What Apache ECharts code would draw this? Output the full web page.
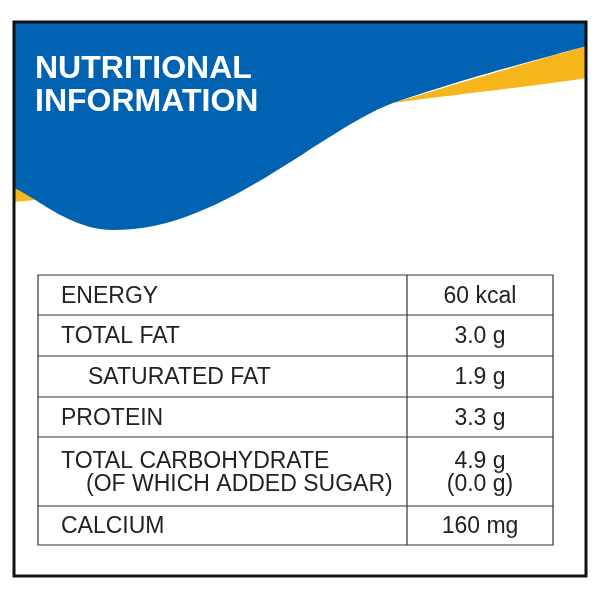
<!DOCTYPE html><html><head><meta charset="utf-8"><script src="https://cdn.jsdelivr.net/npm/echarts@6/dist/echarts.min.js"></script>
<style>html,body{margin:0;background:#fff}#c{width:600px;height:600px}</style></head><body><div id="c"></div><script>
const titleLines=["NUTRITIONAL","INFORMATION"];
const nutrients=[["ENERGY"],["TOTAL FAT"],["SATURATED FAT"],["PROTEIN"],["TOTAL CARBOHYDRATE","(OF WHICH ADDED SUGAR)"],["CALCIUM"]];
const amounts=[["60 kcal"],["3.0 g"],["1.9 g"],["3.3 g"],["4.9 g","(0.0 g)"],["160 mg"]];
const indent=[0,0,1,0,0,0];
const chart=echarts.init(document.getElementById('c'));
const rowH=[40,41,41,40,69,39];
function bez(p0,p1,p2,p3,n=30){const r=[];for(let i=0;i<=n;i++){const t=i/n,u=1-t;r.push([u*u*u*p0[0]+3*u*u*t*p1[0]+3*u*t*t*p2[0]+t*t*t*p3[0],u*u*u*p0[1]+3*u*u*t*p1[1]+3*u*t*t*p2[1]+t*t*t*p3[1]]);}return r;}
const g=[];
g.push({type:'polygon',shape:{points:[[14,185],[35,200],[14,202]]},style:{fill:'#f6b61c'}});
g.push({type:'polygon',shape:{points:[...bez([393,103],[470,80],[530,62],[587,46]),[587,78],...bez([587,78],[520,88],[450,95],[393,103]).slice(1)]},style:{fill:'#f6b61c'}});
g.push({type:'polygon',shape:{points:[[14,22],[587,22],...bez([587,46],[520,64],[460,80],[393,103]),...bez([393,103],[320,130],[220,232],[112,230]).slice(1),...bez([112,230],[70,229],[40,200],[14,188]).slice(1)]},style:{fill:'#0062b1'}});
g.push({type:'rect',shape:{x:14,y:22,width:572,height:554},style:{fill:'none',stroke:'#111',lineWidth:3}});
titleLines.forEach((t,i)=>g.push({type:'text',x:35,y:53+i*33,style:{text:t,fill:'#fff',font:'bold 32px "Liberation Sans", Arial',letterSpacing:-1.8}}));
let y=275;const x0=38,x1=553,xm=407;
g.push({type:'rect',shape:{x:x0,y:275,width:x1-x0,height:rowH.reduce((a,b)=>a+b,0)},style:{fill:'none',stroke:'#333',lineWidth:1.2}});
g.push({type:'line',shape:{x1:xm,y1:275,x2:xm,y2:275+rowH.reduce((a,b)=>a+b,0)},style:{stroke:'#333',lineWidth:1.2}});
nutrients.forEach((n,i)=>{
  const h=rowH[i];
  if(i>0)g.push({type:'line',shape:{x1:x0,y1:y,x2:x1,y2:y},style:{stroke:'#333',lineWidth:1.2}});
  const lh=23,top=y+h/2-(n.length*lh)/2+1.5;
  n.forEach((t,j)=>g.push({type:'text',x:(indent[i]?88:(j?86:61)),y:top+j*lh+lh/2,style:{text:t,fill:'#222',font:'23px "Liberation Sans", Arial',letterSpacing:-0.9,verticalAlign:'middle'}}));
  amounts[i].forEach((t,j)=>g.push({type:'text',x:480,y:top+j*lh+lh/2,style:{text:t,fill:'#222',font:'23px "Liberation Sans", Arial',letterSpacing:-0.6,align:'center',verticalAlign:'middle'}}));
  y+=h;
});
chart.setOption({graphic:{elements:g}});
</script></body></html>
